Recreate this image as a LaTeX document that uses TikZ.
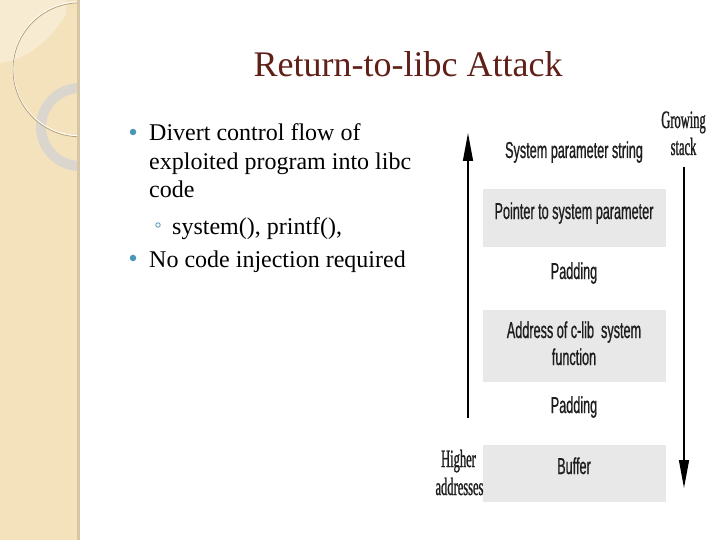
\documentclass[tikz,border=0pt]{standalone}
\usepackage{fontspec}
\setmainfont{Liberation Serif}
\newfontfamily\diagfont[FakeStretch=0.55,FakeBold=0.8]{Liberation Sans}
\newfontfamily\labfont[FakeStretch=0.5,FakeBold=1]{Liberation Serif}
\usetikzlibrary{arrows.meta}
\definecolor{band}{RGB}{243,226,188}
\definecolor{bandlight}{RGB}{247,236,210}
\definecolor{bandedge}{RGB}{214,198,166}
\definecolor{ringc}{RGB}{218,214,206}
\definecolor{circc}{RGB}{185,160,115}
\definecolor{titlered}{RGB}{96,32,24}
\definecolor{bulletc}{RGB}{75,150,180}
\definecolor{boxgray}{RGB}{232,232,232}
\definecolor{dtextc}{RGB}{30,30,30}
\tikzset{
  boxfill/.style={fill=boxgray, draw=none, minimum width=183pt, inner sep=0pt},
  dtext/.style={anchor=base, inner sep=0pt, text=dtextc, font=\diagfont\fontsize{23}{25}\selectfont},
  ltext/.style={anchor=base, inner sep=0pt, text=dtextc, font=\labfont\fontsize{25}{27}\selectfont},
  btext/.style={anchor=base west, inner sep=0pt, font=\fontsize{24}{28}\selectfont},
  bdot/.style={circle, fill=bulletc, inner sep=0pt, minimum size=6.5pt},
  sdot/.style={circle, draw=bulletc, line width=0.8pt, inner sep=0pt, minimum size=4.5pt},
  arr/.style={line width=1.4pt, -{Triangle[length=28pt,width=10pt]}}
}
\begin{document}
\begin{tikzpicture}[x=1pt,y=-1pt]
\useasboundingbox (0,0) rectangle (720,540);
\fill[white] (0,0) rectangle (720,540);
% left decorative band
\fill[band] (0,0) rectangle (77,540);
\fill[bandedge] (77,0) rectangle (80,540);
\begin{scope}
  \clip (0,0) rectangle (77,540);
  \fill[bandlight] (0,0) -- (0,63) .. controls (25,60) and (50,42) .. (66,14) -- (66,0) -- cycle;
  \fill[ringc, even odd rule] (80,127) circle (44) (80,127) circle (34);
  \draw[white, line width=1.6pt] (80,69) circle (67);
  \draw[circc, line width=0.8pt] (80,69.8) circle (67);
\end{scope}
% title
\node[anchor=base, inner sep=0pt, text=titlered, font=\fontsize{36}{40}\selectfont] (title) at (408,77) {Return-to-libc Attack};
% bullets
\node[bdot] (d1) at (133,132) {};
\node[btext] (l1) at (149,140.5) {Divert control flow of};
\node[btext] (l2) at (149,169.5) {exploited program into libc};
\node[btext] (l3) at (149,198) {code};
\node[sdot] (d2) at (158,225) {};
\node[btext] (l4) at (172,234) {system(), printf(),};
\node[bdot] (d3) at (133,258) {};
\node[btext] (l5) at (149,267) {No code injection required};
% stack boxes
\node[boxfill, minimum height=58pt] (b2) at (574.5,218) {};
\node[boxfill, minimum height=72pt] (b3) at (574.5,346) {};
\node[boxfill, minimum height=57pt] (b5) at (574.5,473.5) {};
\node[dtext] (t1) at (574,158) {System parameter string};
\node[dtext] (t2) at (574,219) {Pointer to system parameter};
\node[dtext] (t3) at (574,279) {Padding};
\node[dtext] (t4a) at (574,338) {Address of c-lib\ \ system};
\node[dtext] (t4b) at (574,365) {function};
\node[dtext] (t5) at (574,413) {Padding};
\node[dtext] (t6) at (574,474) {Buffer};
% labels
\node[ltext] (g1) at (683.5,128) {Growing};
\node[ltext] (g2) at (683.5,155) {stack};
\node[ltext] (h1) at (458.5,467) {Higher};
\node[ltext] (h2) at (459.5,495) {addresses};
% arrows
\coordinate (la) at (468,418);
\coordinate (lb) at (468,133);
\coordinate (ra) at (684,167);
\coordinate (rb) at (684,488);
\draw[arr] (la) -- (lb);
\draw[arr] (ra) -- (rb);
\end{tikzpicture}
\end{document}
